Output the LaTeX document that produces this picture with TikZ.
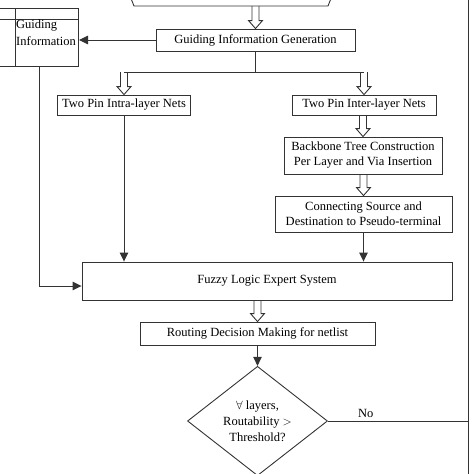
\documentclass[tikz,border=0pt]{standalone}
\usepackage{fontspec}
\setmainfont{Liberation Serif}
\usetikzlibrary{arrows.meta,shapes.geometric,calc}
\newcommand{\hollowarrow}[2]{%
    \draw[hollow] let \p1=(#1), \p2=(#2) in
        (\x2-3.5pt,\y1) -- (\x2-3.5pt,\y2+8pt) -- (\x2-7pt,\y2+8pt) -- (\x2,\y2)
        -- (\x2+7pt,\y2+8pt) -- (\x2+3.5pt,\y2+8pt) -- (\x2+3.5pt,\y1);}

\begin{document}
\begin{tikzpicture}[x=1pt, y=-1pt, font=\fontsize{12.5}{15}\selectfont,
    wire/.style={draw=black!80, line width=0.9pt},
    hollow/.style={wire},
    arr/.style={wire, -{Triangle[length=9pt,width=8.5pt]}},
    procbox/.style={wire, inner sep=2pt, align=center}]
    \useasboundingbox (0,0) rectangle (474,474);

    % Input block (cut off at the top)
    \draw[wire] (126,-14) -- (134,6) -- (328,6) -- (336,-14);
    \coordinate (src) at (255.5,6);

    % Guiding information
    \node[procbox, minimum width=199pt, minimum height=22pt] (gig) at (255.5,40) {Guiding Information Generation};
    \node[wire, minimum width=104pt, minimum height=58pt, anchor=north east] (info) at (79,8) {};
    \draw[wire] (info.west |- 0,19) -- (info.east |- 0,19);
    \draw[wire] (15,8) -- (15,66);
    \node[anchor=north west, align=left, inner sep=1pt, font=\fontsize{12.5}{17}\selectfont] (infotext) at (15,19) {Guiding\\Information};
    \coordinate (infoout) at (39,66);

    % Net classes
    \node[procbox, minimum width=133pt, minimum height=20pt] (intra) at (124,105) {Two Pin Intra-layer Nets};
    \node[procbox, minimum width=144pt, minimum height=20pt] (inter) at (364,105) {Two Pin Inter-layer Nets};
    \node[procbox, minimum width=158pt, minimum height=37pt] (backbone) at (363,155.5) {Backbone Tree Construction\\Per Layer and Via Insertion};
    \node[procbox, minimum width=177pt, minimum height=36pt] (connect) at (363.5,214) {Connecting Source and\\Destination to Pseudo-terminal};

    % Decision part
    \node[procbox, minimum width=370pt, minimum height=38pt] (fuzzy) at (267,281) {Fuzzy Logic Expert System};
    \node[procbox, minimum width=235pt, minimum height=23pt] (routing) at (257.5,333.5) {Routing Decision Making for netlist};
    \node[wire, diamond, minimum width=140pt, minimum height=100pt, inner sep=0pt, align=center,
        font=\fontsize{12.5}{16}\selectfont] (cond) at (257.5,421) {$\forall$ layers,\\Routability $>$\\Threshold?};
    \coordinate (loopTop) at (468,-10);
    \coordinate (loopBot) at (468,480);

    % Hollow arrows
    \hollowarrow{src}{gig.north}
    \coordinate (split) at (255.5,72);
    \draw[wire] (gig.south) -- (split);
    \draw[wire] (intra.north |- split) -- (inter.north |- split);
    \hollowarrow{split}{intra.north}
    \hollowarrow{split}{inter.north}
    \hollowarrow{inter.south}{backbone.north}
    \hollowarrow{backbone.south}{connect.north}
    \hollowarrow{fuzzy.south}{routing.north}

    % Plain arrows
    \draw[arr] (gig.west) -- (gig.west -| info.east);
    \draw[arr] (infoout) |- ($(fuzzy.west)+(0,5)$);
    \draw[arr] (intra.south) -- (intra.south |- fuzzy.north);
    \draw[arr] (connect.south) -- (connect.south |- fuzzy.north);
    \draw[arr] (routing.south) -- (cond.north);
    \draw[wire] (cond.south) -- ++(0,10);

    % Loop back
    \draw[wire] (cond.east) -- node[above, pos=0.27] {No} (cond.east -| loopTop);
    \draw[wire] (loopTop) -- (loopBot);
\end{tikzpicture}
\end{document}
